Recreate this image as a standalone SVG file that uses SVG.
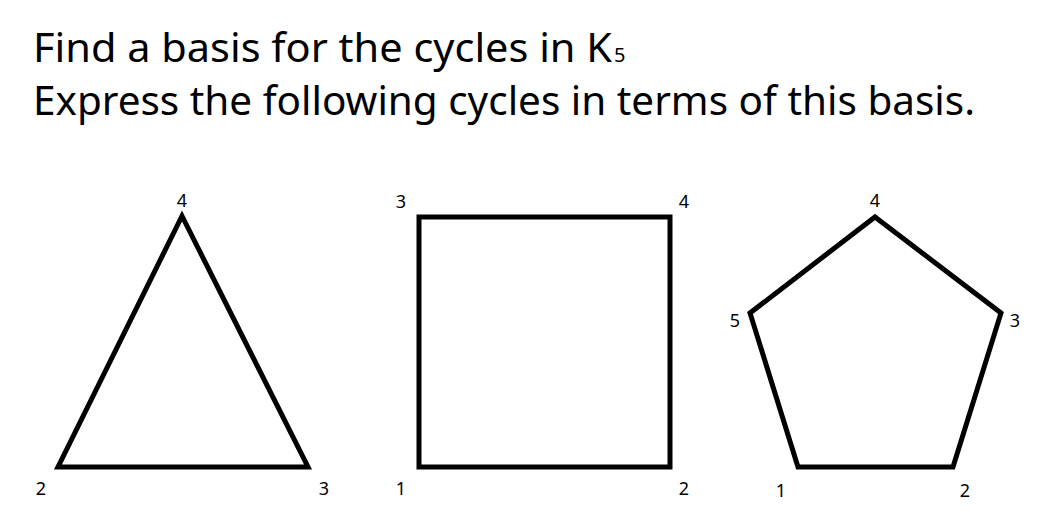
<svg xmlns="http://www.w3.org/2000/svg" width="1049" height="522" viewBox="0 0 1049 522">
<style>
.t{font-family:"Noto Sans","Liberation Sans",sans-serif;font-size:40px;fill:#000}
.sub{font-family:"Noto Sans","Liberation Sans",sans-serif;font-size:20px;fill:#000}
.l{font-family:"Noto Sans","Liberation Sans",sans-serif;font-size:18px;fill:#000;text-anchor:middle}
.s{fill:none;stroke:#000;stroke-width:5;stroke-linejoin:miter}
</style>
<rect width="1049" height="522" fill="#fff"/>
<g id="title">
<text class="t" x="33" y="62" textLength="579" lengthAdjust="spacingAndGlyphs">Find a basis for the cycles in K</text>
<text class="sub" x="614" y="62">5</text>
<text class="t" x="33" y="115" textLength="942" lengthAdjust="spacingAndGlyphs">Express the following cycles in terms of this basis.</text>
</g>
<g id="triangle">
<polygon class="s" points="182,216 58,467 308,467"/>
<text class="l" x="182" y="207">4</text>
<text class="l" x="41" y="495">2</text>
<text class="l" x="324" y="495">3</text>
</g>
<g id="square">
<rect class="s" x="419" y="217" width="251" height="250"/>
<text class="l" x="401" y="208">3</text>
<text class="l" x="684" y="208">4</text>
<text class="l" x="401" y="495">1</text>
<text class="l" x="684" y="495">2</text>
</g>
<g id="pentagon">
<polygon class="s" points="875,217 1001,313 953,467 798,467 750,313"/>
<text class="l" x="875" y="207">4</text>
<text class="l" x="735" y="327">5</text>
<text class="l" x="1015" y="327">3</text>
<text class="l" x="781" y="497">1</text>
<text class="l" x="965" y="497">2</text>
</g>
</svg>
